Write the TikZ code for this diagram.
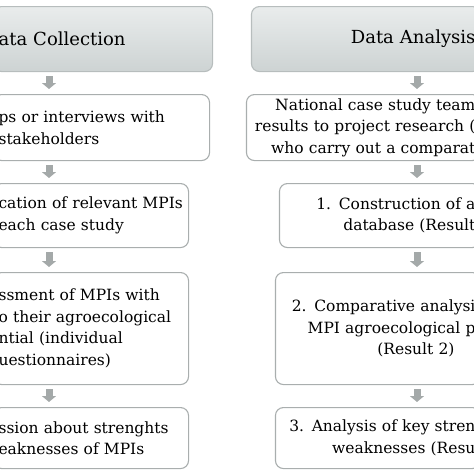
\documentclass[tikz,border=0pt]{standalone}
\usepackage{fontspec}
\setmainfont{DejaVu Serif}
\usetikzlibrary{arrows.meta}

\definecolor{boxline}{HTML}{A9AEAE}
\definecolor{hdrline}{HTML}{B7BDBD}
\definecolor{hdrtop}{HTML}{E9ECEC}
\definecolor{hdrbot}{HTML}{CDD3D3}
\definecolor{flowgray}{HTML}{A4A9A9}

\begin{document}
\begin{tikzpicture}
    [x=1pt,y=-1pt,
     stepnode/.style={draw=boxline,line width=1.1pt,rounded corners=8pt,
       inner xsep=5pt,inner ysep=0pt,
       font=\fontsize{15.5}{21.5}\selectfont},
     hdrnode/.style={stepnode,draw=hdrline,top color=hdrtop,bottom color=hdrbot,
       font=\fontsize{18}{25}\selectfont},
     flowarrow/.style={draw=flowgray,line width=7pt,
       -{Triangle[width=14pt,length=6pt]},shorten <=4pt,shorten >=5pt}]
    \useasboundingbox (0,0) rectangle (474,474);
    \clip (0,0) rectangle (474,474);
    \coordinate (collx) at (49,0);
    \coordinate (anax) at (417,0);
    % data collection
    \node[hdrnode,anchor=north west,text width=209pt,minimum height=65pt,align=left]
      (hdrcoll) at (-7,6) {ata Collection};
    \node[stepnode,anchor=north west,text width=206pt,minimum height=66pt,align=left]
      (coll1) at (-7,94) {ps or interviews with\\stakeholders};
    \node[stepnode,anchor=north west,text width=185pt,minimum height=64pt,align=left]
      (coll2) at (-7,183) {\mbox{cation of relevant MPIs}\\each case study};
    \node[stepnode,anchor=north west,text width=185pt,minimum height=112pt,align=left]
      (coll3) at (-7,272) {ssment of MPIs with\\\mbox{o their agroecological}\\ntial (individual\\uestionnaires)};
    \node[stepnode,anchor=north west,text width=185pt,minimum height=61pt,align=left]
      (coll4) at (-7,407) {ssion about strenghts\\eaknesses of MPIs};
    % data analysis
    \node[hdrnode,anchor=north east,text width=219pt,minimum height=65pt,align=right]
      (hdrana) at (481,6) {Data Analysis};
    \node[stepnode,anchor=north east,text width=224pt,minimum height=66pt,align=right]
      (ana1) at (481,94) {National case study team\\\mbox{results to project research (}\\who carry out a comparat};
    \node[stepnode,anchor=north east,text width=191pt,minimum height=64pt,align=right]
      (ana2) at (481,183) {1. Construction of a\\database (Result};
    \node[stepnode,anchor=north east,text width=195pt,minimum height=112pt,align=right]
      (ana3) at (481,272) {2. Comparative analysi\\MPI agroecological p\\(Result 2)\hspace*{21pt}\mbox{}};
    \node[stepnode,anchor=north east,text width=195pt,minimum height=61pt,align=right]
      (ana4) at (481,407) {3. Analysis of key stren\\weaknesses (Resu};
    % arrows
    \draw[flowarrow] (hdrcoll.south -| collx) -- (coll1.north -| collx);
    \draw[flowarrow] (coll1.south -| collx) -- (coll2.north -| collx);
    \draw[flowarrow] (coll2.south -| collx) -- (coll3.north -| collx);
    \draw[flowarrow] (coll3.south -| collx) -- (coll4.north -| collx);
    \draw[flowarrow] (hdrana.south -| anax) -- (ana1.north -| anax);
    \draw[flowarrow] (ana1.south -| anax) -- (ana2.north -| anax);
    \draw[flowarrow] (ana2.south -| anax) -- (ana3.north -| anax);
    \draw[flowarrow] (ana3.south -| anax) -- (ana4.north -| anax);
  \end{tikzpicture}
\end{document}
